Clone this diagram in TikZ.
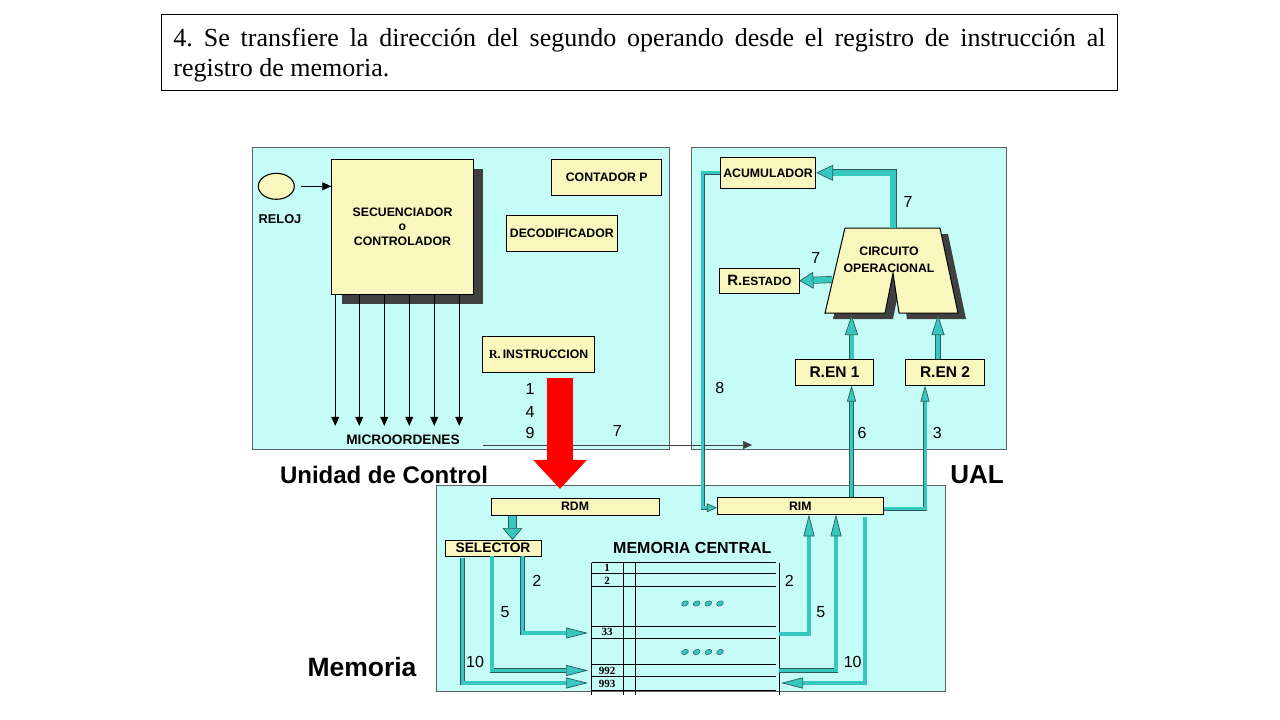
\documentclass[tikz,border=0pt]{standalone}
\usepackage{fontspec}
\setmainfont{Liberation Serif}
\setsansfont{Liberation Sans}
\usetikzlibrary{arrows.meta,shadows,shapes.geometric}
\definecolor{panel}{HTML}{C6FCF8}
\definecolor{cream}{HTML}{FAF7BE}
\definecolor{pipeteal}{HTML}{36C8C0}
\definecolor{pipeedge}{HTML}{2E5A5A}
\definecolor{shadowgray}{HTML}{404040}
\definecolor{frame}{HTML}{5A6262}
\newcommand{\fsz}[1]{\fontsize{#1}{#1}\selectfont}

\begin{document}
\begin{tikzpicture}[x=1pt,y=-1pt,font=\sffamily\bfseries,
  zone/.style={draw=frame,fill=panel,line width=0.9pt},
  reg/.style 2 args={draw=black,fill=cream,line width=0.9pt,inner sep=0pt,
    minimum width=#1,minimum height=#2,font=\sffamily\bfseries\fsz{12.3}},
  num/.style={font=\sffamily\mdseries\fsz{16}},
  biglabel/.style={font=\sffamily\bfseries\fsz{24}},
  cell/.style={font=\rmfamily\bfseries\fsz{11}},
  ordarrow/.style={line width=0.6pt,-{Triangle[length=9pt,width=8pt]}},
  pipe/.style n args={3}{draw=pipeedge,double=pipeteal,line width=0.7pt,
    double distance=#1,-{Triangle[length=#2,width=#3,fill=pipeteal,line width=0.7pt]}}]
  \path[fill=white,use as bounding box] (0,0) rectangle (1280,720);
  % statement of the step
  \node[draw=black,line width=0.9pt,fill=white,text width=932pt,align=justify,
    inner xsep=12pt,inner ysep=4pt,text height=28pt,text depth=40pt,anchor=north west,
    font=\rmfamily\mdseries\fontsize{26}{30}\selectfont] (titulo) at (161,14)
    {\frenchspacing 4. Se transfiere la dirección del segundo operando desde el registro de instrucción al\linebreak registro de memoria.};
  % the three panels
  \draw[zone] (252,147) rectangle (669,449);
  \draw[zone] (691,147) rectangle (1006,449);
  \draw[zone] (436,485) rectangle (945,691.7);
  \node[biglabel] (uc) at (384,474.5) {Unidad de Control};
  \node[biglabel,font=\sffamily\bfseries\fsz{26}] (ual) at (977,475) {UAL};
  \node[biglabel,font=\sffamily\bfseries\fsz{26.5}] (mem) at (362,667.5) {Memoria};

  % unidad de control
  \node[draw=black,fill=cream,ellipse,line width=1.1pt,minimum width=36,
    minimum height=26,inner sep=0pt] (reloj) at (276.3,186.3) {};
  \node[font=\sffamily\bfseries\fsz{12.8}] (relojtxt) at (280,219) {RELOJ};
  \node[reg={141.6}{135.3},align=center,font=\sffamily\bfseries\fontsize{12.3}{14.5}\selectfont,
    drop shadow={shadow xshift=10pt,shadow yshift=-10pt,fill=shadowgray,opacity=1}]
    (secu) at (402.5,226.7) {SECUENCIADOR\\o\\CONTROLADOR};
  \draw[ordarrow] ([xshift=6pt]reloj.east) -- (reloj.east -| secu.west);
  \foreach \dx in {4,28,53,78,103,128}{
    \draw[ordarrow] ([xshift=\dx pt]secu.south west) -- ++(0,131);}
  \node[font=\sffamily\bfseries\fsz{13.7}] (micro) at (403,440) {MICROORDENES};
  \node[reg={110}{36.7}] (contp) at (606.7,177.3) {CONTADOR P};
  \node[reg={111.7}{36.7}] (deco) at (561.8,233.3) {DECODIFICADOR};
  \node[reg={111.7}{36.7}] (rinst) at (538.5,354.3) {{\rmfamily R.}\,INSTRUCCION};
  \foreach \n/\y in {1/389.3,4/411.7,9/433.3}
    \node[num] (paso\n) at (530,\y) {\n};
  \node[num] (siete) at (617.3,431) {7};
  \coordinate (busa) at (483,445);
  \coordinate (busb) at (752,445);
  \draw[ordarrow,black!75] (busa) -- (busb);

  % unidad aritmetico-logica
  \node[reg={95.4}{31}] (acum) at (768,172.8) {ACUMULADOR};
  \node[reg={79.3}{25}] (rest) at (759.3,280.8) {{\fsz{15}R.}{\fsz{12}ESTADO}};
  \node[reg={78.3}{25.7},font=\sffamily\bfseries\fsz{15.5}] (ren1) at (834.5,372.2) {R.EN 1};
  \node[reg={79.3}{25.7},font=\sffamily\bfseries\fsz{15.5}] (ren2) at (945,372.2) {R.EN 2};
  \fill[shadowgray] (853,234) -- (948,234) -- (966,319) -- (907,319) -- (901,279)
    -- (893,319) -- (833,319) -- cycle;
  \draw[fill=cream,line width=1pt] (845,228) -- (940,228) -- (958,313) -- (899,313)
    -- (893,273) -- (885,313) -- (825,313) -- cycle;
  \node[align=center,font=\sffamily\bfseries\fontsize{12.3}{17}\selectfont] (alutxt)
    at (889,259.5) {CIRCUITO\\OPERACIONAL};
  \coordinate (alutop) at (893,228);
  \coordinate (aluleft) at (832,279.5);
  \coordinate (alua) at (851.5,315);
  \coordinate (alub) at (938,315);
  \draw[pipe={5.6pt}{17pt}{16pt}] (alutop) |- (acum.east);
  \draw[pipe={5.6pt}{14pt}{17pt}] (aluleft) -- (rest.east);
  \draw[pipe={4pt}{20pt}{13pt}] (ren1.north -| alua) -- (alua);
  \draw[pipe={4pt}{20pt}{13pt}] (ren2.north -| alub) -- (alub);
  \node[num] (op7a) at (908,201.7) {7};
  \node[num] (op7b) at (815.7,257.7) {7};

  % memoria
  \node[reg={168}{16.7}] (rdm) at (575,506.7) {RDM};
  \node[reg={96}{16},font=\sffamily\bfseries\fsz{13.8}] (sel) at (493,548) {SELECTOR};
  \node[reg={166}{16.3}] (rim) at (800.3,505.8) {RIM};
  \node[font=\sffamily\bfseries\fsz{16}] (memc) at (692.3,547.7) {MEMORIA CENTRAL};
  \coordinate (selin) at (512.5,540);
  \draw[pipe={7.5pt}{12pt}{20pt}] (rdm.south -| selin) -- (selin);
  % cells
  \foreach \y in {562.7,573.3,586.7,626,638.3,664.3,676.7,690.7}
    \draw[line width=0.8pt] (591.7,\y) -- (776,\y);
  \foreach \x in {591.7,623,635}
    \draw[line width=0.9pt] (\x,562.7) -- (\x,695);
  \draw[line width=0.9pt] (779,563) -- (779,695);
  \foreach \t/\y in {1/568,2/580.5,33/632.2,992/670.5,993/683.7}
    \node[cell] (cell\t) at (607,\y) {\t};
  \foreach \y in {603.5,652}{
    \foreach \x in {685,696.7,708.3,720}
      \draw[pipeedge,fill=pipeteal,line width=0.5pt] (\x,\y) ellipse [x radius=3.6pt,y radius=2.4pt,rotate=25];}
  \coordinate (m33l) at (588,633);
  \coordinate (m992l) at (588,670.5);
  \coordinate (m993l) at (588,683);
  \coordinate (m33r) at (779,634);
  \coordinate (m992r) at (779,670.5);
  \coordinate (m993r) at (781,683);
  \draw[pipe={3.5pt}{22pt}{11pt}] ([xshift=29.5pt]sel.south) |- (m33l);
  \draw[pipe={3.5pt}{22pt}{11pt}] ([xshift=-1pt]sel.south) |- (m992l);
  \draw[pipe={3.5pt}{22pt}{11pt}] ([xshift=-30.5pt,yshift=-2pt]sel.south) |- (m993l);
  \draw[pipe={3.5pt}{22pt}{11pt}] (m33r) -| ([xshift=8.7pt]rim.south);
  \draw[pipe={3.5pt}{22pt}{11pt}] (m992r) -| ([xshift=35.7pt]rim.south);
  \draw[pipe={3.5pt}{22pt}{11pt}] ([xshift=64.7pt,yshift=-3pt]rim.south) |- (m993r);
  \foreach \t/\x/\y in {2/536.7/581,5/505/611.7,10/475/661.7,2/789.3/581,5/820.7/611.7,10/852.7/661.7}
    \node[num] at (\x,\y) {\t};

  % buses between units
  \draw[pipe={3pt}{16pt}{9pt}] (rim.north -| alua) -- (ren1.south -| alua);
  \draw[pipe={3pt}{16pt}{9pt}] ([yshift=-3pt]rim.east) -| ([xshift=-20pt]ren2.south);
  \draw[pipe={3pt}{10pt}{9pt}] (acum.west) -- ++(-17,0) |- ([yshift=-2pt]rim.west);
  \node[num] (n8) at (719.7,388.3) {8};
  \node[num] (n6) at (862,433.3) {6};
  \node[num] (n3) at (937.3,433.3) {3};
  \draw[red,line width=26pt,-{Triangle[length=29pt,width=52pt]}]
    ([xshift=21.5pt,yshift=-5pt]rinst.south) -- ([xshift=-15pt,yshift=9pt]rdm.north);
\end{tikzpicture}
\end{document}
